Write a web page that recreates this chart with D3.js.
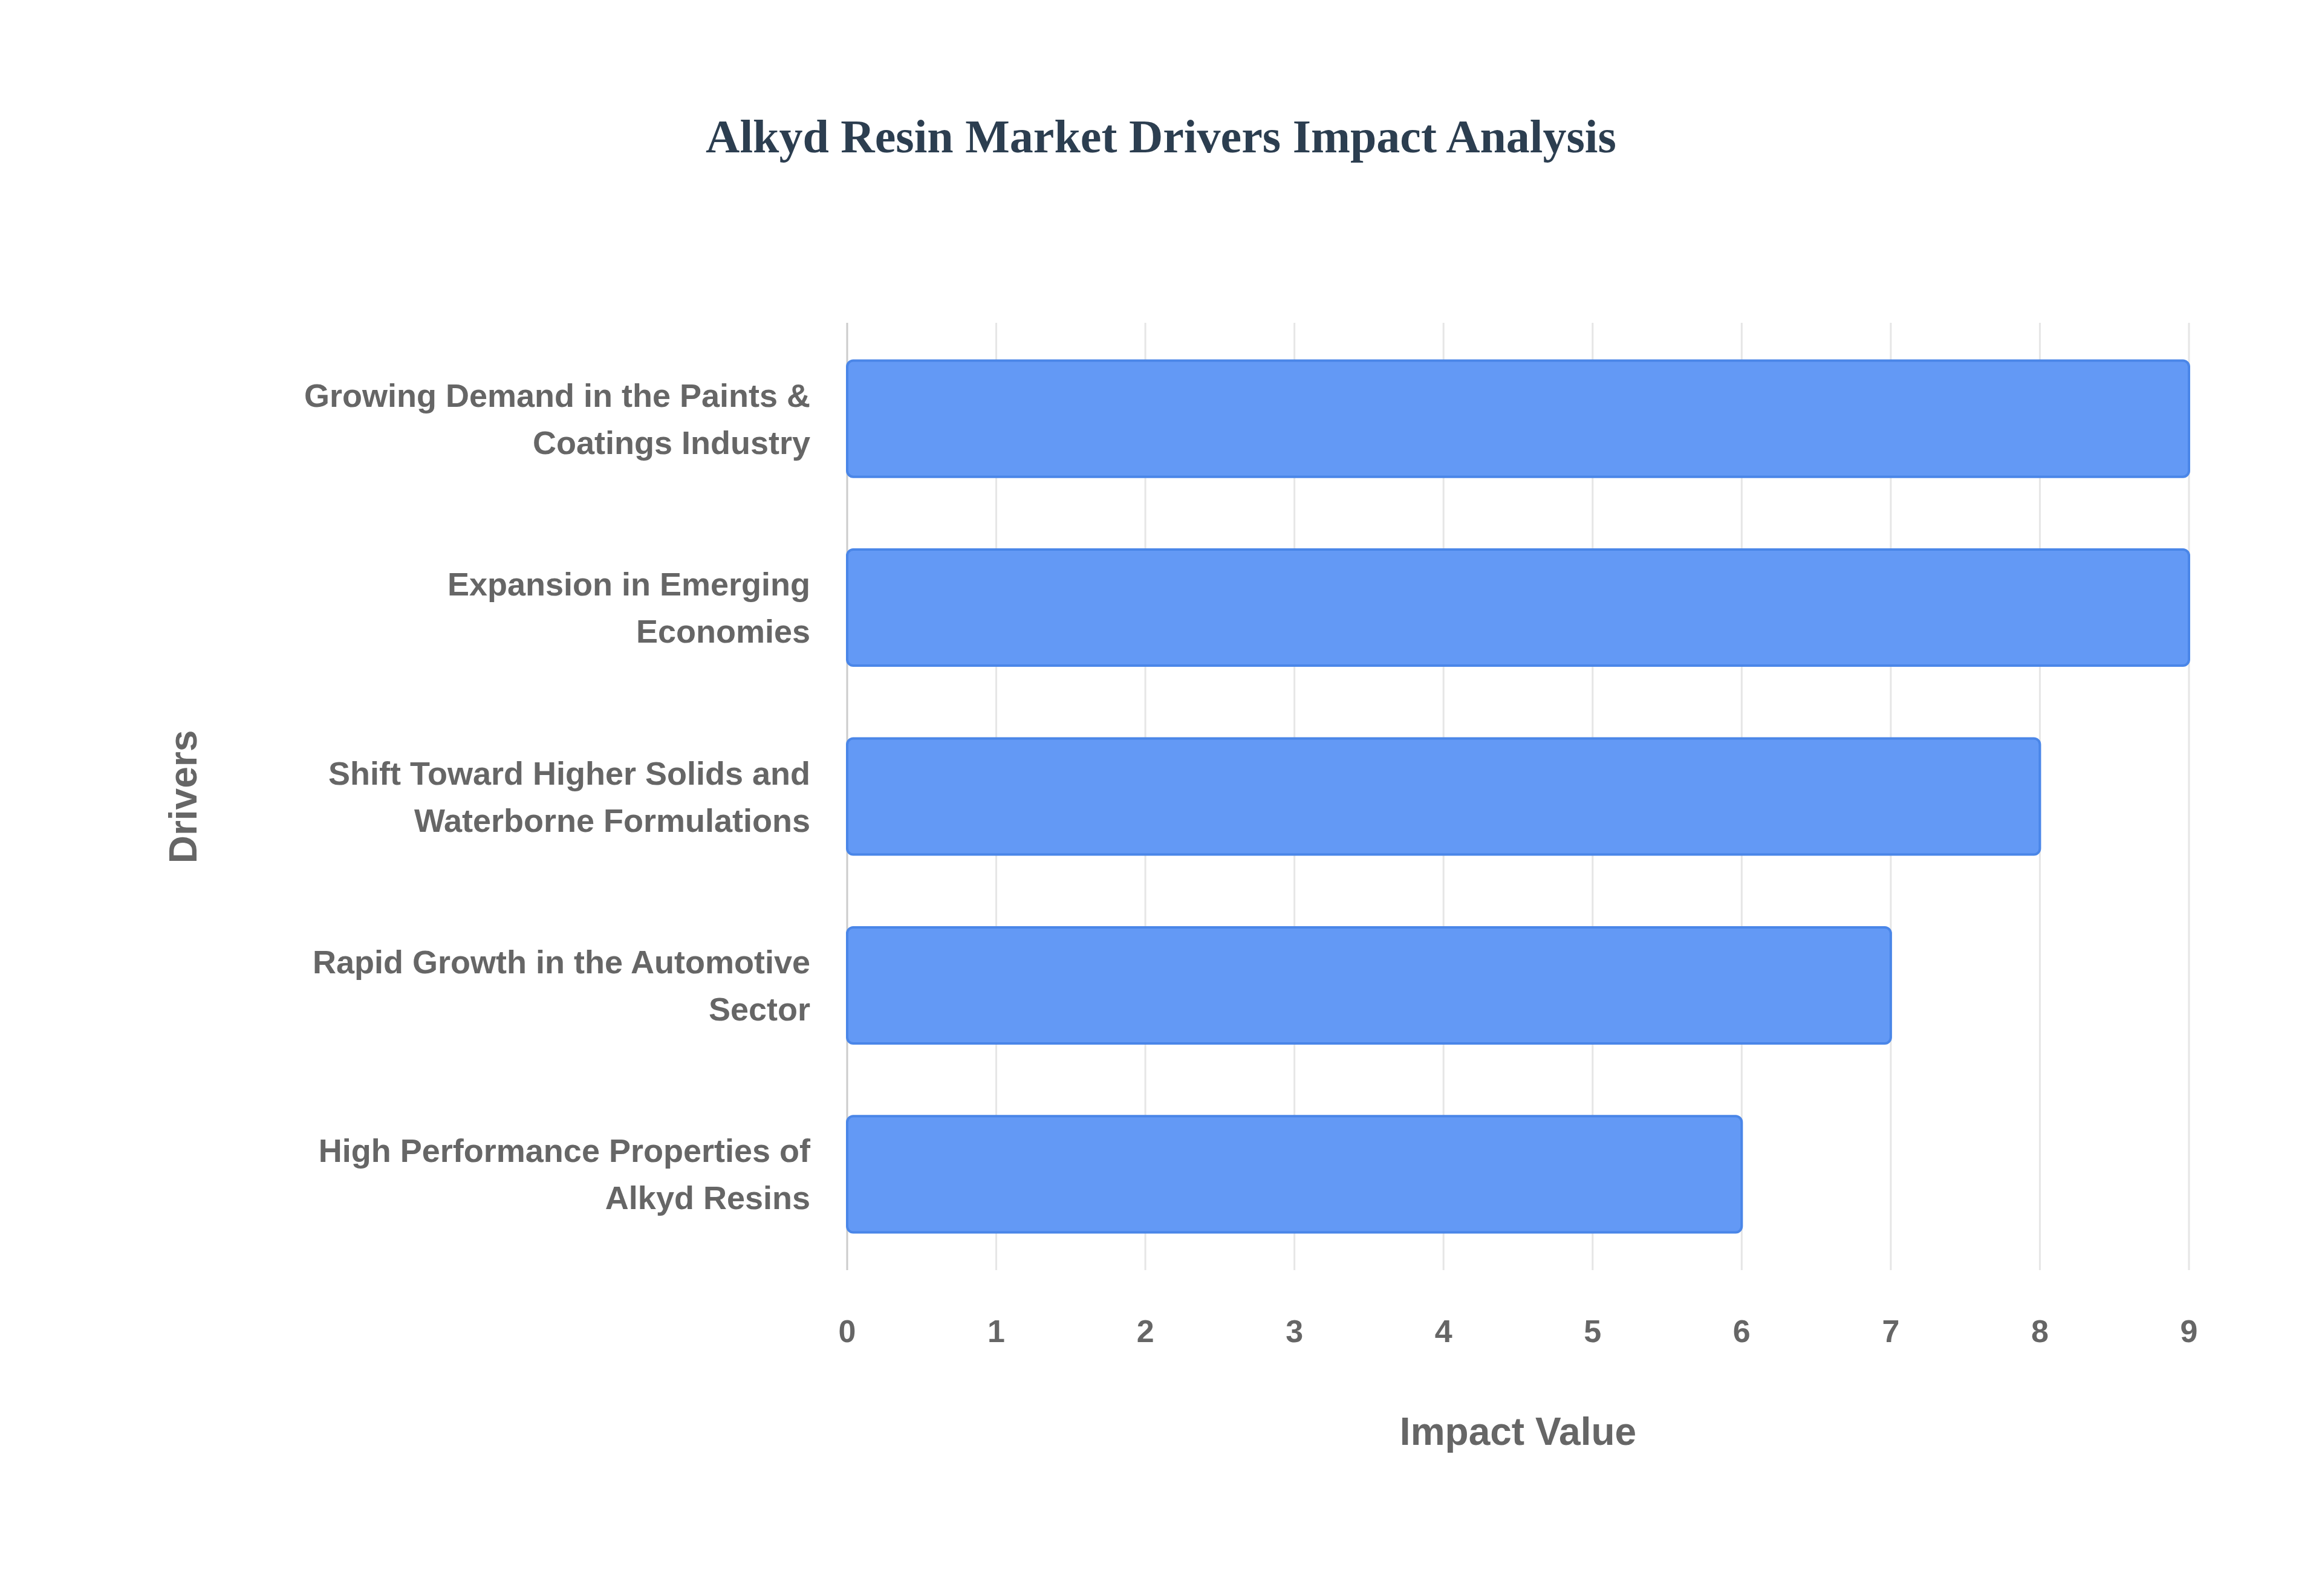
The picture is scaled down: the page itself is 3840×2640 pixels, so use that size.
<!DOCTYPE html>
<html><head><meta charset="utf-8">
<script src="https://cdn.jsdelivr.net/npm/d3@7"></script>
<style>body{margin:0;background:#fff}</style>
</head><body>
<script>
var drivers = [
  ["Growing Demand in the Paints &", "Coatings Industry"],
  ["Expansion in Emerging", "Economies"],
  ["Shift Toward Higher Solids and", "Waterborne Formulations"],
  ["Rapid Growth in the Automotive", "Sector"],
  ["High Performance Properties of", "Alkyd Resins"]
];
var impact = [9, 9, 8, 7, 6];
var xTicks = [0, 1, 2, 3, 4, 5, 6, 7, 8, 9];

var width = 3840, height = 2640;
var plotLeft = 1401, plotRight = 3620, plotTop = 534, plotBottom = 2101;

var svg = d3.select("body").append("svg")
    .attr("width", width).attr("height", height);

var x = d3.scaleLinear().domain([0, 9]).range([plotLeft, plotRight]);
var y = d3.scaleBand().domain(d3.range(drivers.length)).range([plotTop, plotBottom]).paddingInner(0.385).paddingOuter(0.2);

//gridlines
svg.selectAll(".grid").data(xTicks).enter().append("line")
    .attr("x1", d => x(d)).attr("x2", d => x(d))
    .attr("y1", plotTop).attr("y2", plotBottom)
    .attr("stroke", d => d === 0 ? "#cccccc" : "#e6e6e6").attr("stroke-width", 3);

//bars
svg.selectAll(".bar").data(impact).enter().append("rect")
    .attr("x", x(0)).attr("y", (d, i) => y(i))
    .attr("width", d => x(d) - x(0)).attr("height", y.bandwidth())
    .attr("rx", 10)
    .attr("fill", "#6399f5").attr("stroke", "#4a86e8").attr("stroke-width", 4);

//tick labels
svg.selectAll(".tick").data(xTicks).enter().append("text")
    .attr("x", d => x(d)).attr("y", 2220)
    .attr("text-anchor", "middle")
    .attr("font-family", "Liberation Sans, Arial, sans-serif").attr("font-weight", "bold")
    .attr("font-size", 52).attr("fill", "#666666")
    .text(d => d);

//category labels
var lab = svg.selectAll(".lab").data(drivers).enter().append("text")
    .attr("text-anchor", "end")
    .attr("font-family", "Liberation Sans, Arial, sans-serif").attr("font-weight", "bold")
    .attr("font-size", 54).attr("fill", "#666666");
lab.each(function(d, i){
    var cy = y(i) + y.bandwidth() / 2;
    d3.select(this).selectAll("tspan").data(d).enter().append("tspan")
        .attr("x", 1340).attr("y", (t, j) => cy - 20 + j * 78)
        .text(t => t);
});

svg.append("text").attr("x", (plotLeft + plotRight) / 2).attr("y", 2390)
    .attr("text-anchor", "middle")
    .attr("font-family", "Liberation Sans, Arial, sans-serif").attr("font-weight", "bold")
    .attr("font-size", 64).attr("fill", "#666666").text("Impact Value");

svg.append("text").attr("transform", "translate(325,1318) rotate(-90)")
    .attr("text-anchor", "middle")
    .attr("font-family", "Liberation Sans, Arial, sans-serif").attr("font-weight", "bold")
    .attr("font-size", 64).attr("fill", "#666666").text("Drivers");

svg.append("text").attr("x", 1920).attr("y", 252)
    .attr("text-anchor", "middle")
    .attr("font-family", "Liberation Serif, Times New Roman, serif").attr("font-weight", "bold")
    .attr("font-size", 78).attr("fill", "#2c3e50")
    .text("Alkyd Resin Market Drivers Impact Analysis");
</script>
</body></html>
